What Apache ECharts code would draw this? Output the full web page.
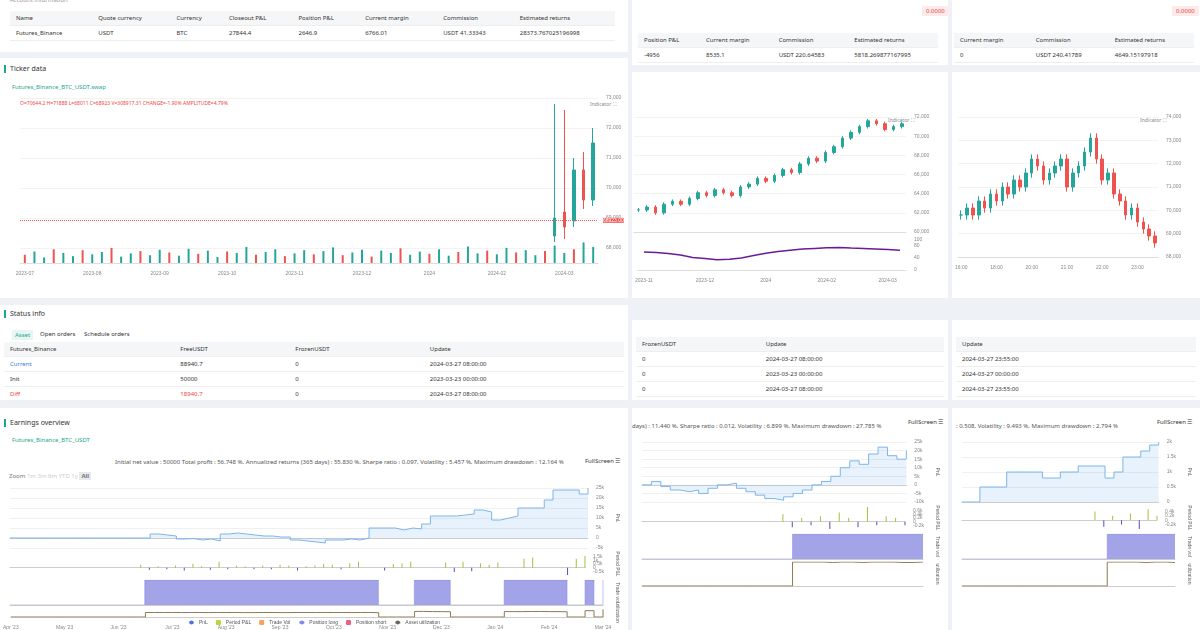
<!DOCTYPE html>
<html>
<head>
<meta charset="utf-8">
<script src="https://cdn.jsdelivr.net/npm/echarts@6/dist/echarts.min.js"></script>
<style>
* { margin: 0; padding: 0; }
body { width: 1200px; height: 630px; background: #eef1f5; font-family: "Noto Sans", Roboto, sans-serif; font-size: 6px; color: #333; position: relative; overflow: hidden; }
.panel { position: absolute; background: #fff; }
table { border-collapse: collapse; width: 100%; }
td { padding: 3px 6px; border-bottom: 1px solid #eee; white-space: nowrap; }
tr.h td { background: #f5f6f8; }
.title { position: absolute; font-size: 7px; }
.title:before { content: ""; display: inline-block; width: 2px; height: 8px; background: #1aa88a; margin-right: 4px; vertical-align: middle; }
.tab { position: absolute; color: #1aa88a; font-size: 6px; }
.chart { position: absolute; }
</style>
</head>
<body>
<div class="panel" style="left:0;top:0;width:628px;height:52px">
  <div style="position:absolute;left:10px;top:-4px;color:#999">Account information</div>
  <table style="position:absolute;left:10px;top:11px;width:605px">
    <tr class="h"><td>Name</td><td>Quote currency</td><td>Currency</td><td>Closeout P&amp;L</td><td>Position P&amp;L</td><td>Current margin</td><td>Commission</td><td>Estimated returns</td></tr>
    <tr><td>Futures_Binance</td><td>USDT</td><td>BTC</td><td>27844.4</td><td>2646.9</td><td>6766.01</td><td>USDT 41.33343</td><td>28373.767025196998</td></tr>
  </table>
</div>
<div class="panel" style="left:632px;top:0;width:316px;height:65px">
  <div style="position:absolute;left:290px;top:6px;color:#e44;background:#fdeaea;padding:1px 4px">0.0000</div>
  <table style="position:absolute;left:6px;top:33px;width:300px">
    <tr class="h"><td>Position P&amp;L</td><td>Current margin</td><td>Commission</td><td>Estimated returns</td></tr>
    <tr><td>-4956</td><td>8535.1</td><td>USDT 220.64583</td><td>5818.269877167995</td></tr>
  </table>
</div>
<div class="panel" style="left:952px;top:0;width:248px;height:65px">
  <div style="position:absolute;left:220px;top:6px;color:#e44;background:#fdeaea;padding:1px 4px">0.0000</div>
  <table style="position:absolute;left:2px;top:33px;width:240px">
    <tr class="h"><td>Current margin</td><td>Commission</td><td>Estimated returns</td></tr>
    <tr><td>0</td><td>USDT 240.41789</td><td>4649.15197918</td></tr>
  </table>
</div>

<div class="panel" style="left:0;top:58px;width:628px;height:240px">
  <div class="title" style="left:4px;top:6px">Ticker data</div>
  <div class="tab" style="left:12px;top:25px">Futures_Binance_BTC_USDT.swap</div>
  <div style="position:absolute;left:20px;top:42px;color:#e44;font-size:5px">O=70644.2 H=71888 L=68011 C=68923 V=308917.31 CHANGE=-1.90% AMPLITUDE=4.79%</div>
  <div style="position:absolute;left:590px;top:43px;color:#888;font-size:5px">Indicator ⛶</div>
  <div id="ticker" class="chart" style="left:0;top:30px;width:628px;height:210px"></div>
</div>
<div class="panel" style="left:632px;top:72px;width:316px;height:226px">
  <div style="position:absolute;left:256px;top:45px;color:#888;font-size:5px">Indicator ⛶</div>
  <div id="mid" class="chart" style="left:0;top:40px;width:316px;height:186px"></div></div>
<div class="panel" style="left:952px;top:72px;width:248px;height:226px">
  <div style="position:absolute;left:188px;top:45px;color:#888;font-size:5px">Indicator ⛶</div>
  <div id="right" class="chart" style="left:0;top:40px;width:248px;height:186px"></div></div>

<div class="panel" style="left:0;top:305px;width:628px;height:95px">
  <div class="title" style="left:4px;top:4px">Status info</div>
  <div class="tab" style="left:12px;top:25px;background:#e8f6f2;padding:1px 3px">Asset</div>
  <div style="position:absolute;left:40px;top:25px">Open orders</div>
  <div style="position:absolute;left:84px;top:25px">Schedule orders</div>
  <table style="position:absolute;left:4px;top:37px;width:620px">
    <tr class="h"><td>Futures_Binance</td><td>FreeUSDT</td><td>FrozenUSDT</td><td>Update</td></tr>
    <tr><td style="color:#3a7bd5">Current</td><td>88940.7</td><td>0</td><td>2024-03-27 08:00:00</td></tr>
    <tr><td>Init</td><td>50000</td><td>0</td><td>2023-03-23 00:00:00</td></tr>
    <tr><td style="color:#e44">Diff</td><td style="color:#e44">18940.7</td><td>0</td><td>2024-03-27 08:00:00</td></tr>
  </table>
</div>
<div class="panel" style="left:632px;top:320px;width:316px;height:80px">
  <table style="position:absolute;left:4px;top:17px;width:308px">
    <tr class="h"><td>FrozenUSDT</td><td>Update</td></tr>
    <tr><td>0</td><td>2024-03-27 08:00:00</td></tr>
    <tr><td>0</td><td>2023-03-23 00:00:00</td></tr>
    <tr><td>0</td><td>2024-03-27 08:00:00</td></tr>
  </table>
</div>
<div class="panel" style="left:952px;top:320px;width:248px;height:80px">
  <table style="position:absolute;left:4px;top:17px;width:240px">
    <tr class="h"><td>Update</td></tr>
    <tr><td>2024-03-27 23:55:00</td></tr>
    <tr><td>2024-03-27 00:00:00</td></tr>
    <tr><td>2024-03-27 23:55:00</td></tr>
  </table>
</div>

<div class="panel" style="left:0;top:408px;width:628px;height:222px">
  <div class="title" style="left:4px;top:10px">Earnings overview</div>
  <div class="tab" style="left:12px;top:28px">Futures_Binance_BTC_USDT</div>
  <div style="position:absolute;left:115px;top:50px;color:#555">Initial net value : 50000 Total profit : 56.748 %, Annualized returns (365 days) : 55.830 %, Sharpe ratio : 0.097, Volatility : 5.457 %, Maximum drawdown : 12.164 %</div>
  <div style="position:absolute;left:585px;top:49px">FullScreen ☰</div>
  <div style="position:absolute;left:9px;top:64px;color:#777">Zoom <span style="color:#ccc">1m 3m 6m YTD 1y</span> <b style="background:#e6e9f0;padding:0 2px">All</b></div>
  <div id="earn" class="chart" style="left:0;top:70px;width:628px;height:152px"></div>
</div>
<div class="panel" style="left:632px;top:408px;width:316px;height:222px">
  <div style="position:absolute;left:0;top:14px;color:#555">days) : 11.440 %, Sharpe ratio : 0.012, Volatility : 6.899 %, Maximum drawdown : 27.785 %</div>
  <div style="position:absolute;left:276px;top:10px">FullScreen ☰</div>
  <div id="earn2" class="chart" style="left:0;top:24px;width:316px;height:198px"></div>
</div>
<div class="panel" style="left:952px;top:408px;width:248px;height:222px">
  <div style="position:absolute;left:4px;top:14px;color:#555">: 0.508, Volatility : 9.493 %, Maximum drawdown : 2.794 %</div>
  <div style="position:absolute;left:205px;top:10px">FullScreen ☰</div>
  <div id="earn3" class="chart" style="left:0;top:24px;width:248px;height:198px"></div>
</div>

<script>
// ---- data ----
var tickerMonths = ['2023-07','2023-08','2023-09','2023-10','2023-11','2023-12','2024','2024-02','2024-03'];
var volumes = [18,25,12,30,22,15,28,19,24,33,14,21,26,17,29,23,16,31,20,27,13,25,22,35,18,24,30,15,21,28,19,26,34,17,23,29,14,27,22,32,18,25,20,30,16,24,36,21,27,19,33,23,28,17,26,38,22,30,45,35];
var lastCandles = [[68400,69000,68200,72800],[69200,68700,68300,72600],[68900,70600,68700,71000],[70600,69600,69300,71200],[69600,71500,69400,72000]];
var midMonths = ['2023-11','2023-12','2024','2024-02','2024-03'];
var midCloses = [41,42,40,43,44,43,45,47,46,48,47,46,49,50,52,51,53,55,54,57,59,58,61,63,66,68,70,72,71,69,70,71];
var midOsc = [60,58,55,50,42,38,34,36,40,48,56,62,66,70,72,74,75,73,72,70,68,66];
var rightHours = ['16:00','18:00','20:00','21:00','22:00','23:00'];
var rightCloses = [66,67,66,68,67,69,68,70,69,71,70,72,74,73,71,72,73,74,70,72,73,75,77,74,71,72,69,68,66,67,65,64,63,62];
var earnLabels = ["Apr '23","May '23","Jun '23","Jul '23","Aug '23","Sep '23","Oct '23","Nov '23","Dec '23","Jan '24","Feb '24","Mar '24"];
var pnl = [0,0,0,0,0,0,0,0,0,0,0,0,0,0,0,0,2,1.5,1,-0.5,-0.3,-1,-0.5,-1.5,2,2.5,2,1.5,1,1,0.5,0.5,-1,-1.5,-2,-2.5,-1,-1,-0.5,-1,0,5,5,5,4,5,4.5,7,11,11,11,11.5,12,14,13,9,10,11,15,15,15,19,24,24,24,22,25];
var periodPnl = [0,0,0,0,0,0,0,0,0,0,0,0,0,0,0,0.4,-0.3,0.2,-0.2,0.3,-0.4,0.5,0.2,-0.3,0.8,-0.2,0.3,0.2,-0.2,0.3,-0.2,0.4,0.3,-0.4,0.2,0.3,0.5,0.4,-0.2,0.6,0.8,0,0,-0.4,0.5,0.6,0.8,0,0,0,0.7,-0.6,0.8,-0.5,0.6,0.4,0.7,0,0,1.2,1.4,0,0,0,-1,1.2,1.6];
var positionLong = [0,0,0,0,0,0,0,0,0,0,0,0,0,0,0,1,1,1,1,1,1,1,1,1,1,1,1,1,1,1,1,1,1,1,1,1,1,1,1,1,1,0,0,0,0,1,1,1,1,0,0,0,0,0,0,1,1,1,1,1,1,1,0,0,1,0,1];
var utilization = [0,0,0,0,0,0,0,0,0,0,0,0,0,0,0,0.5,0.5,0.5,0.49,0.5,0.5,0.49,0.5,0.5,0.5,0.49,0.49,0.5,0.5,0.49,0.49,0.5,0.5,0.49,0.5,0.5,0.5,0.49,0.5,0.5,0.48,0,0,0,0,0.62,0.6,0.6,0.58,0,0,0,0,0,0,0.6,0.6,0.61,0.62,0.6,0.6,0.58,0,0,0.7,0,0.85];
var midPnl = [0,2,-1,-3,-4,-3,-5,-2,0,1,-2,-4,-6,-8,-9,-7,-5,-3,0,2,5,10,14,12,18,22,17,15,20];
var rightPnl = [0,0,0.5,0.5,0.5,1,1,1,1,0.8,0.8,1,1,1.2,1.2,1.2,0.8,1,1.5,1.5,1.7,1.9,2];

var green = '#26a69a', red = '#ef5350';
function idx(n) { var a = []; for (var i = 0; i < n; i++) a.push(i); return a; }
var ax = { fontSize: 5, color: '#888' };

// ---- ticker ----
var tk = echarts.init(document.getElementById('ticker'));
var candleData = volumes.map(function (v, i) { return i < volumes.length - lastCandles.length ? '-' : lastCandles[i - volumes.length + lastCandles.length]; });
tk.setOption({
  animation: false,
  grid: [{ left: 20, right: 30, top: 10, height: 150 }, { left: 20, right: 30, top: 120, height: 55 }],
  xAxis: [
    { type: 'category', data: idx(volumes.length), show: false },
    { type: 'category', gridIndex: 1, data: idx(volumes.length), axisLabel: Object.assign({ interval: 6, formatter: function (v, i) { return tickerMonths[Math.floor(i / 7)] || ''; } }, ax), axisTick: { show: false }, axisLine: { lineStyle: { color: '#ddd' } } }
  ],
  yAxis: [
    { scale: true, min: 68000, max: 73000, position: 'right', splitLine: { lineStyle: { color: '#f3f3f3' } }, axisLabel: ax },
    { gridIndex: 1, show: false, max: 120 }
  ],
  series: [
    { type: 'candlestick', data: candleData, barWidth: 3, itemStyle: { color: green, color0: red, borderColor: green, borderColor0: red },
      markLine: { symbol: 'none', silent: true, lineStyle: { color: red, type: 'dotted' }, label: { show: true, position: 'end', backgroundColor: red, color: '#fff', fontSize: 5, formatter: '68923.00' }, data: [{ yAxis: 68923 }] } },
    { type: 'bar', xAxisIndex: 1, yAxisIndex: 1, barWidth: 2, data: volumes.map(function (v, i) { return { value: v, itemStyle: { color: i % 3 ? green : red } }; }) }
  ]
});

function miniPrice(id, closes, osc, labels) {
  var c = echarts.init(document.getElementById(id));
  var step = Math.ceil(closes.length / labels.length);
  var fmt = function (v, i) { return labels[Math.floor(i / step)] || ''; };
  var candles = closes.map(function (v, i) { var o = i ? closes[i - 1] : v; return [o * 300 + 50000, v * 300 + 50000, Math.min(o, v) * 300 + 49800, Math.max(o, v) * 300 + 50200]; });
  var grids = [{ left: 2, right: 42, top: 5, height: osc ? 115 : 140 }];
  var xs = [{ type: 'category', data: idx(closes.length), axisLabel: Object.assign({ show: !osc, interval: step - 1, formatter: fmt }, ax), axisTick: { show: false }, axisLine: { lineStyle: { color: '#ddd' } } }];
  var ys = [{ scale: true, position: 'right', splitLine: { lineStyle: { color: '#f3f3f3' } }, axisLabel: ax }];
  var series = [{ type: 'candlestick', data: candles, barWidth: 3, itemStyle: { color: green, color0: red, borderColor: green, borderColor0: red } }];
  if (osc) {
    grids.push({ left: 2, right: 42, top: 128, height: 30 });
    var s2 = Math.ceil(osc.length / labels.length);
    xs.push({ type: 'category', gridIndex: 1, data: idx(osc.length), axisTick: { show: false }, axisLabel: Object.assign({ interval: s2 - 1, formatter: function (v, i) { return labels[Math.floor(i / s2)] || ''; } }, ax), axisLine: { lineStyle: { color: '#ddd' } } });
    ys.push({ gridIndex: 1, position: 'right', min: 0, max: 100, interval: 40, axisLabel: ax, splitLine: { show: false } });
    series.push({ type: 'line', xAxisIndex: 1, yAxisIndex: 1, data: osc, symbol: 'none', lineStyle: { color: '#6a1b9a', width: 1.5 } });
  }
  c.setOption({ animation: false, grid: grids, xAxis: xs, yAxis: ys, series: series });
}
miniPrice('mid', midCloses, midOsc, midMonths);
miniPrice('right', rightCloses, null, rightHours);

// ---- earnings ----
function earnings(id, pnlData, full) {
  var c = echarts.init(document.getElementById(id));
  var n = pnlData.length;
  var top = 10;
  var grids = [
    { left: 10, right: 22, top: top, height: 60 },
    { left: 10, right: 22, top: top + 65, height: 22 },
    { left: 10, right: 22, top: top + 92, height: 25 },
    { left: 10, right: 22, top: top + 120, height: 24 }
  ];
  var xs = grids.map(function (g, i) { return { type: 'category', gridIndex: i, data: idx(n), boundaryGap: false, axisTick: { show: false }, axisLine: { lineStyle: { color: '#ccc' } },
    axisLabel: i === 3 && full ? Object.assign({ interval: 5, formatter: function (v, k) { return earnLabels[Math.floor(k / 5.6)] || ''; } }, ax) : { show: false } }; });
  var ys = grids.map(function (g, i) { return { gridIndex: i, position: 'right', splitLine: { show: i === 0, lineStyle: { color: '#f0f0f0' } }, axisLabel: Object.assign({ show: i < 2, formatter: function (v) { return v ? v + 'k' : '0'; } }, ax),
    name: ['PnL', 'Period P&L', 'Trade vol', 'utilization'][i], nameLocation: 'middle', nameGap: 12, nameRotate: -90, nameTextStyle: { fontSize: 5, color: '#666' } }; });
  c.setOption({
    animation: false,
    grid: grids, xAxis: xs, yAxis: ys,
    legend: full ? { bottom: 0, itemWidth: 5, itemHeight: 5, textStyle: { fontSize: 5 }, data: ['PnL', 'Period P&L', 'Trade Vol', 'Position long', 'Position short', 'Asset utilization'] } : { show: false },
    series: [
      { name: 'PnL', type: 'line', data: pnlData, symbol: 'none', step: 'end', lineStyle: { color: '#7cb5ec', width: 1 }, areaStyle: { color: 'rgba(124,181,236,0.25)' } },
      { name: 'Period P&L', type: 'bar', xAxisIndex: 1, yAxisIndex: 1, barWidth: 1, data: periodPnl.slice(0, n).map(function (v) { return { value: v, itemStyle: { color: v >= 0 ? '#9bc53d' : '#5b4bb7' } }; }) },
      { name: 'Trade Vol', type: 'bar', xAxisIndex: 2, yAxisIndex: 2, data: [], itemStyle: { color: '#f7a35c' } },
      { name: 'Position long', type: 'line', xAxisIndex: 2, yAxisIndex: 2, step: 'end', symbol: 'none', data: positionLong.slice(0, n), lineStyle: { width: 0.5, color: '#8085e9' }, areaStyle: { color: '#9999e6', opacity: 0.9 }, itemStyle: { color: '#8085e9' } },
      { name: 'Position short', type: 'bar', xAxisIndex: 2, yAxisIndex: 2, data: [], itemStyle: { color: '#f15c80' } },
      { name: 'Asset utilization', type: 'line', xAxisIndex: 3, yAxisIndex: 3, step: 'end', symbol: 'none', data: utilization.slice(0, n), lineStyle: { color: '#8d7a4f', width: 1 }, itemStyle: { color: '#666' } }
    ]
  });
}
earnings('earn', pnl, true);
earnings('earn2', midPnl, false);
earnings('earn3', rightPnl, false);
</script>
</body>
</html>
